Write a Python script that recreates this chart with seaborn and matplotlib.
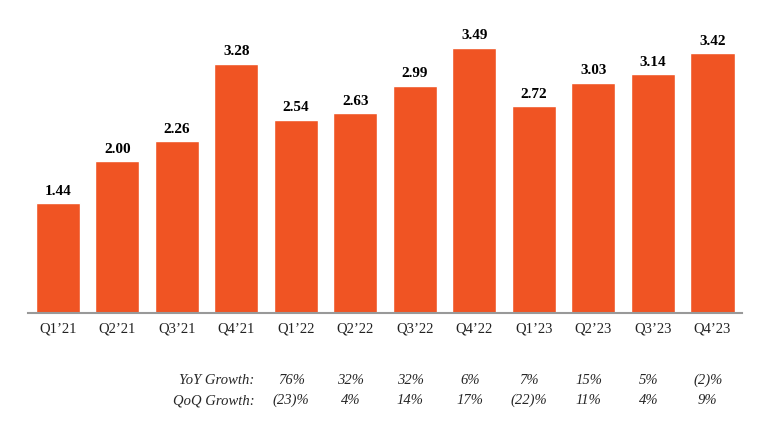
import pandas as pd
import numpy as np
import matplotlib.pyplot as plt
import matplotlib.transforms as mtransforms
import seaborn as sns

quarters = ["Q1\u201921", "Q2\u201921", "Q3\u201921", "Q4\u201921",
            "Q1\u201922", "Q2\u201922", "Q3\u201922", "Q4\u201922",
            "Q1\u201923", "Q2\u201923", "Q3\u201923", "Q4\u201923"]
values = [1.44, 2.00, 2.26, 3.28, 2.54, 2.63, 2.99, 3.49, 2.72, 3.03, 3.14, 3.42]
yoy_growth = ["76%", "32%", "32%", "6%", "7%", "15%", "5%", "(2)%"]
qoq_growth = ["(23)%", "4%", "14%", "17%", "(22)%", "11%", "4%", "9%"]

sns.set_theme(style="white")
plt.rcParams['font.family'] = ['Liberation Serif', 'DejaVu Serif']

df = pd.DataFrame({"Quarter": quarters, "Value": values})

fig = plt.figure(figsize=(7.68, 4.25), dpi=100)
ax = fig.add_axes([0.0365, 0.2635, 0.93, 0.689])

sns.barplot(data=df, x="Quarter", y="Value", color="#F05423", saturation=1,
            width=0.74, ax=ax)

for i, v in enumerate(values):
    ax.text(i, v + 0.07, f"{v:.2f}", ha="center", va="bottom",
            fontsize=11, fontweight="bold", color="black")

ax.set_xlim(-0.5, 11.5)
ax.set_ylim(0, 3.85)
ax.set_xlabel("")
ax.set_ylabel("")
ax.set_yticks([])
ax.tick_params(axis="x", length=0, pad=7, labelsize=10.5, colors="#222222")
for s in ["top", "right", "left"]:
    ax.spines[s].set_visible(False)
ax.spines["bottom"].set_color("#999999")
ax.spines["bottom"].set_linewidth(1.5)

# growth rows under the chart
trans = mtransforms.blended_transform_factory(ax.transData, ax.transAxes)
ax.text(3.3, -0.242, "YoY Growth:", transform=trans, ha="right", va="baseline",
        fontsize=10.5, style="italic")
ax.text(3.3, -0.311, "QoQ Growth:", transform=trans, ha="right", va="baseline",
        fontsize=10.5, style="italic")
for j, (y1, y2) in enumerate(zip(yoy_growth, qoq_growth)):
    x = 4 + j - 0.08
    ax.text(x, -0.242, y1, transform=trans, ha="center", va="baseline",
            fontsize=10.5, style="italic")
    ax.text(x, -0.311, y2, transform=trans, ha="center", va="baseline",
            fontsize=10.5, style="italic")

fig.savefig("out.png", dpi=100, facecolor="white")
